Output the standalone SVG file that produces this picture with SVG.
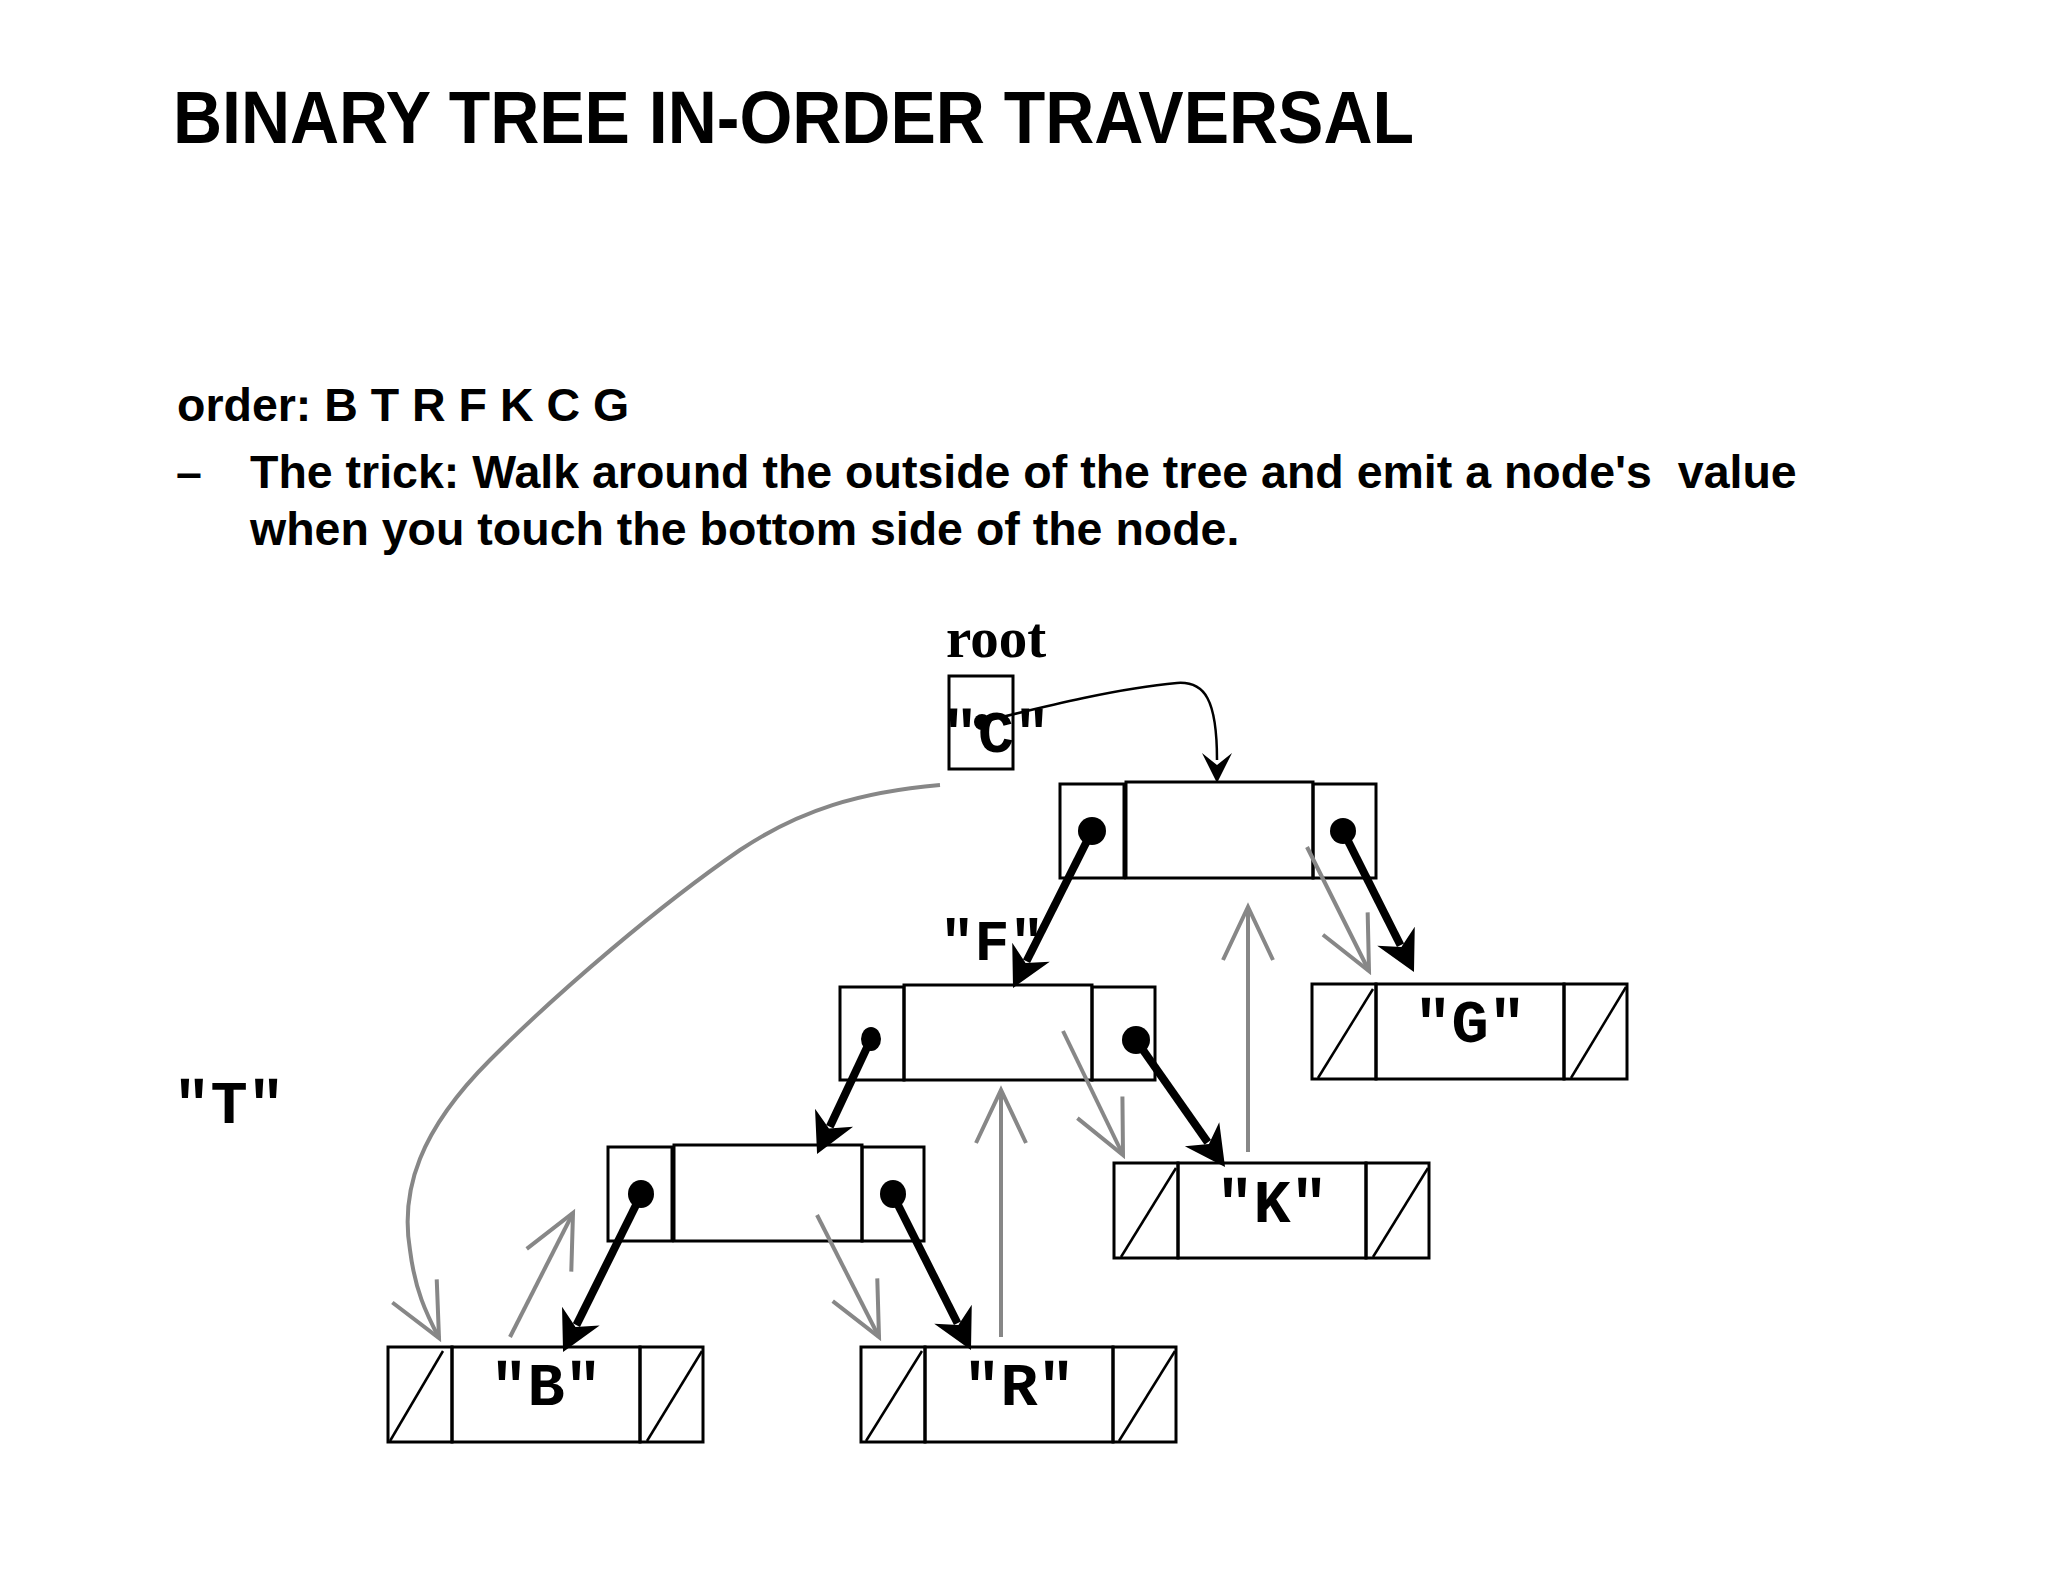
<svg xmlns="http://www.w3.org/2000/svg" width="2048" height="1582" viewBox="0 0 2048 1582">
  <style>
    .cell { fill: none; stroke: #000; stroke-width: 3; }
    .slash { stroke: #000; stroke-width: 2.5; }
    .dot { fill: #000; }
    .lbl { font-family: "Liberation Mono", "Courier New", monospace; font-weight: bold; fill: #000; text-anchor: middle; }
    .body { font-family: "Liberation Sans", Arial, sans-serif; font-weight: bold; font-size: 46.5px; fill: #000; }
    .ptr { fill: none; stroke: #000; stroke-width: 8; }
    .walk { fill: none; stroke: #878787; stroke-width: 4; }
  </style>
  <defs>
    <marker id="bh" markerUnits="userSpaceOnUse" orient="auto" overflow="visible" refX="0" refY="0" markerWidth="1" markerHeight="1">
      <path d="M30,0 L-10,-21 L2,0 L-10,21 Z" fill="#000"/>
    </marker>
    <marker id="sh" markerUnits="userSpaceOnUse" orient="auto" overflow="visible" refX="0" refY="0" markerWidth="1" markerHeight="1">
      <path d="M23,0 L-7,-15 L5,0 L-7,15 Z" fill="#000"/>
    </marker>
    <marker id="gh" markerUnits="userSpaceOnUse" orient="auto" overflow="visible" refX="0" refY="0" markerWidth="1" markerHeight="1">
      <path d="M-53,-25 L0,0 L-53,25" fill="none" stroke="#878787" stroke-width="4"/>
    </marker>
  </defs>
  <rect width="2048" height="1582" fill="#fff"/>

  <text x="173" y="143" font-family="Liberation Sans, Arial, sans-serif" font-weight="bold" font-size="75" textLength="1241" lengthAdjust="spacingAndGlyphs">BINARY TREE IN-ORDER TRAVERSAL</text>

  <text class="body" x="177" y="421">order: B T R F K C G</text>
  <text class="body" x="176" y="488">–</text>
  <text class="body" x="250" y="488" xml:space="preserve">The trick: Walk around the outside of the tree and emit a node's  value</text>
  <text class="body" x="250" y="545">when you touch the bottom side of the node.</text>

  <g id="root">
    <text x="946" y="657" font-family="Liberation Serif, 'Times New Roman', serif" font-weight="bold" font-size="57">root</text>
    <rect class="cell" x="949" y="676" width="64" height="93"/>
    <text class="lbl" x="996" y="752" font-size="60">"C"</text>
    <circle class="dot" cx="982" cy="722" r="8"/>
  </g>

  <g id="label-T">
    <text class="lbl" x="229" y="1123" font-size="62">"T"</text>
  </g>
  <g id="label-F">
    <text class="lbl" x="992" y="960" font-size="58">"F"</text>
  </g>

  <g id="node-C">
    <rect class="cell" x="1060" y="784" width="64" height="94"/>
    <rect class="cell" x="1126" y="782" width="187" height="96"/>
    <rect class="cell" x="1313" y="784" width="63" height="94"/>
    <circle class="dot" cx="1092" cy="831" r="14"/>
    <circle class="dot" cx="1343" cy="831" r="13"/>
  </g>

  <g id="node-F">
    <rect class="cell" x="840" y="987" width="64" height="93"/>
    <rect class="cell" x="904" y="985" width="188" height="95"/>
    <rect class="cell" x="1092" y="987" width="63" height="93"/>
    <ellipse class="dot" cx="871" cy="1039" rx="10" ry="12"/>
    <circle class="dot" cx="1136" cy="1040" r="14"/>
  </g>

  <g id="node-T">
    <rect class="cell" x="608" y="1147" width="64" height="94"/>
    <rect class="cell" x="674" y="1145" width="188" height="96"/>
    <rect class="cell" x="862" y="1147" width="62" height="94"/>
    <ellipse class="dot" cx="641" cy="1194" rx="13" ry="14"/>
    <ellipse class="dot" cx="893" cy="1194" rx="13" ry="14"/>
  </g>

  <g id="node-G">
    <rect class="cell" x="1312" y="984" width="64" height="95"/>
    <rect class="cell" x="1376" y="984" width="188" height="95"/>
    <rect class="cell" x="1564" y="984" width="63" height="95"/>
    <line class="slash" x1="1318" y1="1078" x2="1373" y2="989"/>
    <line class="slash" x1="1571" y1="1078" x2="1626" y2="987"/>
    <text class="lbl" x="1470" y="1042" font-size="62">"G"</text>
  </g>

  <g id="node-K">
    <rect class="cell" x="1114" y="1163" width="64" height="95"/>
    <rect class="cell" x="1178" y="1163" width="188" height="95"/>
    <rect class="cell" x="1366" y="1163" width="63" height="95"/>
    <line class="slash" x1="1121" y1="1257" x2="1176" y2="1168"/>
    <line class="slash" x1="1373" y1="1257" x2="1428" y2="1168"/>
    <text class="lbl" x="1272" y="1222" font-size="62">"K"</text>
  </g>

  <g id="node-B">
    <rect class="cell" x="388" y="1347" width="64" height="95"/>
    <rect class="cell" x="452" y="1347" width="188" height="95"/>
    <rect class="cell" x="640" y="1347" width="63" height="95"/>
    <line class="slash" x1="390" y1="1441" x2="443" y2="1351"/>
    <line class="slash" x1="647" y1="1441" x2="702" y2="1351"/>
    <text class="lbl" x="546" y="1405" font-size="62">"B"</text>
  </g>

  <g id="node-R">
    <rect class="cell" x="861" y="1347" width="64" height="95"/>
    <rect class="cell" x="925" y="1347" width="188" height="95"/>
    <rect class="cell" x="1113" y="1347" width="63" height="95"/>
    <line class="slash" x1="866" y1="1441" x2="922" y2="1351"/>
    <line class="slash" x1="1119" y1="1441" x2="1175" y2="1351"/>
    <text class="lbl" x="1019" y="1405" font-size="62">"R"</text>
  </g>

  <g id="connectors">
    <path d="M982,722 C1050,705 1120,688 1177,683 C1205,681 1217,700 1217,760" fill="none" stroke="#000" stroke-width="2.5" marker-end="url(#sh)"/>
    <path class="ptr" d="M1092,831 L1026.5,961.2" marker-end="url(#bh)"/>
    <path class="ptr" d="M1343,831 L1400.5,945.2" marker-end="url(#bh)"/>
    <path class="ptr" d="M871,1039 L829.8,1126.8" stroke-width="7" marker-end="url(#bh)"/>
    <path class="ptr" d="M1136,1040 L1207.8,1142.4" marker-end="url(#bh)"/>
    <path class="ptr" d="M641,1195 L576.4,1325.1" stroke-width="7" marker-end="url(#bh)"/>
    <path class="ptr" d="M893,1195 L957.5,1323.2" marker-end="url(#bh)"/>
    <path class="walk" d="M940,785 C860,792 800,810 740,850 C660,905 560,990 490,1060 C420,1130 400,1190 410,1250 C415,1290 426,1313 439,1338" marker-end="url(#gh)"/>
    <path class="walk" d="M510,1337 L573,1213" marker-end="url(#gh)"/>
    <path class="walk" d="M817,1215 L879,1337" marker-end="url(#gh)"/>
    <path class="walk" d="M1001,1337 L1001,1090" marker-end="url(#gh)"/>
    <path class="walk" d="M1063,1031 L1123,1155" marker-end="url(#gh)"/>
    <path class="walk" d="M1248,1152 L1248,907" marker-end="url(#gh)"/>
    <path class="walk" d="M1307,847 L1369,971" marker-end="url(#gh)"/>
  </g>
</svg>
